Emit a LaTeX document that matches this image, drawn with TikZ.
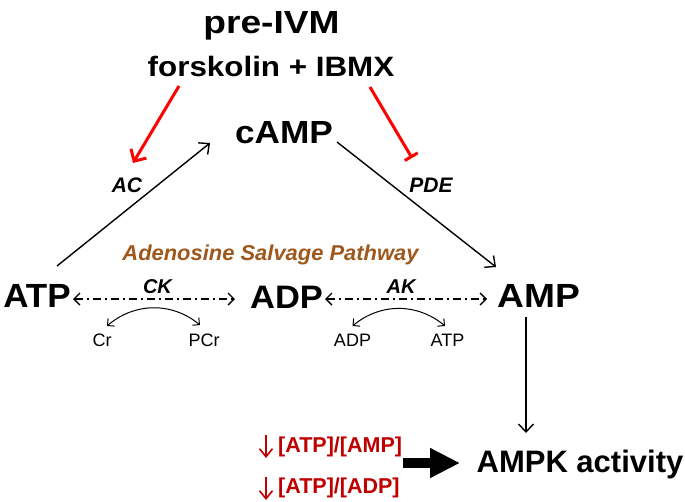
\documentclass[tikz,border=0pt]{standalone}
\usepackage{fontspec}
\setmainfont{Liberation Sans}
\usetikzlibrary{arrows.meta}
\definecolor{myred}{RGB}{255,0,0}
\definecolor{darkred}{RGB}{192,0,0}
\definecolor{brownc}{RGB}{158,88,28}
\newcommand{\fsz}[1]{\fontsize{#1}{#1}\selectfont}
\newcommand{\hs}[2]{\scalebox{#1}[1]{#2}}
\begin{document}
\begin{tikzpicture}[x=1pt,y=-1pt,
  lbl/.style={inner sep=0pt, anchor=base},
  blackarrow/.style={line width=1.4pt, -{Straight Barb[length=8pt,width=15pt]}},
  redarrow/.style={draw=myred, line width=3pt, -{Straight Barb[length=9pt,width=18pt]}},
  redbar/.style={draw=myred, line width=3pt, -{Bar[width=15pt]}},
  dashdot/.style={line width=1.4pt, dash pattern=on 8pt off 4pt on 2pt off 4pt,
    {Straight Barb[length=6pt,width=12pt]}-{Straight Barb[length=6pt,width=12pt]}},
  curvearrow/.style={line width=1pt, {Straight Barb[length=5pt,width=10pt]}-{Straight Barb[length=5pt,width=10pt]}},
  downarrow/.style={draw=darkred, line width=1.6pt, -{Straight Barb[length=8pt,width=13pt]}},
  fatarrow/.style={line width=10pt, -{Triangle[length=30pt,width=28pt]}}]
\useasboundingbox (0,0) rectangle (685,501);
% labels
\node[lbl, font=\bfseries\fsz{32}] (pre) at (271.5,33) {\hs{1.16}{pre-IVM}};
\node[lbl, font=\bfseries\fsz{28}] (forsk) at (271,76) {\hs{1.12}{forskolin + IBMX}};
\node[lbl, font=\bfseries\fsz{32}] (cAMP) at (284,143) {\hs{1.1}{cAMP}};
\node[lbl, font=\bfseries\fsz{33.5}] (ATP) at (37,307) {\hs{1.045}{ATP}};
\node[lbl, font=\bfseries\fsz{32.5}] (ADP) at (286.5,308) {\hs{1.06}{ADP}};
\node[lbl, font=\bfseries\fsz{33.5}] (AMP) at (538.5,307) {\hs{1.11}{AMP}};
\node[lbl, font=\bfseries\fsz{31}] (AMPK) at (580,472) {AMPK activity};
\node[lbl, font=\bfseries\itshape\fsz{21}] (AC) at (127,192) {AC};
\node[lbl, font=\bfseries\itshape\fsz{21}] (PDE) at (431,192) {PDE};
\node[lbl, font=\bfseries\itshape\fsz{21.5}, text=brownc] (salv) at (270.5,260) {\hs{1.02}{Adenosine Salvage Pathway}};
\node[lbl, font=\bfseries\itshape\fsz{20}] (CK) at (157.5,293) {CK};
\node[lbl, font=\bfseries\itshape\fsz{20}] (AK) at (401,293) {AK};
\node[lbl, font=\fsz{18}] (Cr) at (102,346) {Cr};
\node[lbl, font=\fsz{18}] (PCr) at (204,346) {PCr};
\node[lbl, font=\fsz{18}] (ADPs) at (352.5,346) {ADP};
\node[lbl, font=\fsz{18}] (ATPs) at (447.5,346) {ATP};
\node[lbl, anchor=base west, font=\bfseries\fsz{21.5}, text=darkred] (r1) at (278,452) {[ATP]/[AMP]};
\node[lbl, anchor=base west, font=\bfseries\fsz{21.5}, text=darkred] (r2) at (278,493) {[ATP]/[ADP]};
% connectors
\draw[blackarrow] ([shift={(20,-41)}]ATP.base) -- ([shift={(-74,0)}]cAMP.base);
\draw[blackarrow] ([shift={(53,-1)}]cAMP.base) -- ([shift={(-42.5,-40)}]AMP.base);
\draw[redarrow] ([shift={(-92,10)}]forsk.base) -- ([shift={(6,-29)}]AC.base);
\draw[redbar] ([shift={(99,11)}]forsk.base) -- ([shift={(-19,-34)}]PDE.base);
\draw[dashdot] ([shift={(36,-8)}]ATP.base) -- ([shift={(-51.5,-9)}]ADP.base);
\draw[dashdot] ([shift={(38.5,-9)}]ADP.base) -- ([shift={(-51.5,-8)}]AMP.base);
\draw[curvearrow] ([shift={(5,-20)}]Cr.base) to[bend left=40] ([shift={(-4,-21)}]PCr.base);
\draw[curvearrow] ([shift={(0,-20)}]ADPs.base) to[bend left=40] ([shift={(-2.5,-20)}]ATPs.base);
\draw[blackarrow] ([shift={(-12.5,10)}]AMP.base) -- ([shift={(-54,-39)}]AMPK.base);
\draw[fatarrow] ([shift={(-177,-9)}]AMPK.base) -- ([shift={(-120,-9)}]AMPK.base);
\draw[downarrow] ([shift={(-12,-17)}]r1.base west) -- ([shift={(-12,6)}]r1.base west);
\draw[downarrow] ([shift={(-12,-16)}]r2.base west) -- ([shift={(-12,7)}]r2.base west);
\end{tikzpicture}
\end{document}
